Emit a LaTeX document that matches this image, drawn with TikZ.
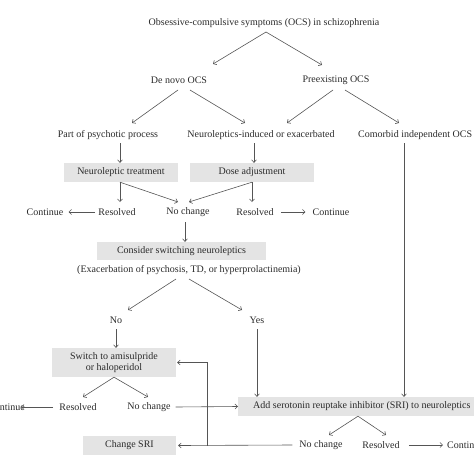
\documentclass[tikz,border=0pt]{standalone}
\usepackage{fontspec}
\setmainfont{Liberation Serif}
\usetikzlibrary{arrows.meta,calc}
\definecolor{txt}{HTML}{2A2A2A}
\definecolor{ln}{HTML}{555555}
\definecolor{boxfill}{HTML}{E4E4E4}
\begin{document}
\begin{tikzpicture}[x=1pt,y=-1pt,
  lbl/.style={inner sep=1pt,text=txt,font=\fontsize{10}{11.5}\selectfont},
  gbox/.style={lbl,fill=boxfill,minimum height=19pt},
  arr/.style={draw=ln,line width=0.6pt,-{Straight Barb[length=2.6pt,width=5pt]}},
  ln/.style={draw=ln,line width=0.6pt}]
\useasboundingbox (0,0) rectangle (474,474);
\clip (0,0) rectangle (474,474);
% nodes
\node[lbl] (title) at (264,23) {Obsessive-compulsive symptoms (OCS) in schizophrenia};
\node[lbl] (denovo) at (179,80) {De novo OCS};
\node[lbl] (preex) at (336,80) {Preexisting OCS};
\node[lbl] (part) at (108,135) {Part of psychotic process};
\node[lbl] (neuro) at (261,135) {Neuroleptics-induced or exacerbated};
\node[lbl,anchor=west] (comorbid) at (357,135) {Comorbid independent OCS};
\node[gbox,minimum width=114pt] (nt) at (121,172.5) {Neuroleptic treatment};
\node[gbox,minimum width=124pt] (da) at (252,172.5) {Dose adjustment};
\node[lbl] (cont1) at (45,212) {Continue};
\node[lbl] (res1) at (117,212) {Resolved};
\node[lbl] (noch1) at (188,212) {No change};
\node[lbl] (res2) at (255,212) {Resolved};
\node[lbl] (cont2) at (331,212) {Continue};
\node[gbox,minimum width=169pt,minimum height=18pt] (csn) at (181.5,251) {Consider switching neuroleptics};
\node[lbl] (exac) at (189,270) {(Exacerbation of psychosis, TD, or hyperprolactinemia)};
\node[lbl] (no) at (116,320) {No};
\node[lbl] (yes) at (257,320) {Yes};
\node[gbox,minimum width=124pt,minimum height=29pt,align=center] (sw) at (114,362.5) {Switch to amisulpride\\or haloperidol};
\node[lbl,anchor=east] (cont3) at (26,407) {Continue};
\node[lbl] (res3) at (78,407) {Resolved};
\node[lbl] (noch3) at (149,407) {No change};
\node[gbox,anchor=west,inner xsep=15pt] (sri) at (238,406.5) {Add serotonin reuptake inhibitor (SRI) to neuroleptics};
\node[gbox,minimum width=93pt] (ch) at (129.5,445.5) {Change SRI};
\node[lbl] (noch4) at (321,445) {No change};
\node[lbl] (res4) at (381,445) {Resolved};
\node[lbl,anchor=west] (cont4) at (446,445) {Continue};
% connectors
\draw[arr] ([shift={(2,9)}]title.center) -- ([shift={(34,-16)}]denovo.center);
\draw[arr] ([shift={(2,9)}]title.center) -- ([shift={(-14,-15)}]preex.center);
\draw[arr] ([shift={(-1,10)}]denovo.center) -- ([shift={(24,-12)}]part.center);
\draw[arr] ([shift={(11,10)}]denovo.center) -- ([shift={(-16,-12)}]neuro.center);
\draw[arr] ([shift={(-3,10)}]preex.center) -- ([shift={(26,-12)}]neuro.center);
\draw[arr] ([shift={(9,10)}]preex.center) -- ([shift={(42,-12)}]comorbid.west);
\coordinate (pv) at ([shift={(12,8)}]part.center);
\draw[arr] (pv) -- (pv |- nt.north);
\coordinate (nv) at ([shift={(-7,8)}]neuro.center);
\draw[arr] (nv) -- (nv |- da.north);
\coordinate (cv) at ([shift={(47,8)}]comorbid.west);
\draw[arr] (cv) -- (cv |- sri.north);
\coordinate (nts) at ([xshift=-1]nt.south);
\draw[arr] (nts) -- (nts |- 0,202);
\draw[arr] (nts) -- ([shift={(-10,-10)}]noch1.center);
\draw[arr] (da.south) -- ([shift={(1,-10)}]noch1.center);
\draw[arr] (da.south) -- (da.south |- 0,202);
\draw[arr] ([xshift=-2]res1.west) -- ([xshift=4]cont1.east);
\draw[arr] ([xshift=6]res2.east) -- ([xshift=-6]cont2.west);
\coordinate (ncv) at ([shift={(-3,10)}]noch1.center);
\draw[arr] (ncv) -- (ncv |- csn.north);
\draw[arr] ([shift={(-13,9)}]exac.center) -- ([shift={(12,-10)}]no.center);
\draw[arr] ([shift={(0,9)}]exac.center) -- ([shift={(-15,-10)}]yes.center);
\draw[arr] ([shift={(0,9)}]no.center) -- (no.center |- sw.north);
\draw[arr] ([shift={(0,9)}]yes.center) -- (yes.center |- sri.north);
\draw[arr] (sw.south) -- ([shift={(5,-10)}]res3.center);
\draw[arr] (sw.south) -- ([shift={(-1,-10)}]noch3.center);
\draw[arr] ([xshift=-5]res3.west) -- ([xshift=-5]cont3.east);
\draw[arr] ([xshift=4]noch3.east) -- (sri.west);
\coordinate (srs) at (sri.south -| 358,0);
\draw[arr] (srs) -- ([shift={(8,-10)}]noch4.center);
\draw[arr] (srs) -- ([shift={(5,-10)}]res4.center);
\draw[arr] ([xshift=8]res4.east) -- ([xshift=-3]cont4.west);
\draw[arr] ([xshift=-6]noch4.west) -- ([xshift=2]ch.east);
\coordinate (br) at (207,0);
\draw[arr] (br |- ch.east) -- (br |- sw.east) -- ([xshift=1]sw.east);
\end{tikzpicture}
\end{document}
